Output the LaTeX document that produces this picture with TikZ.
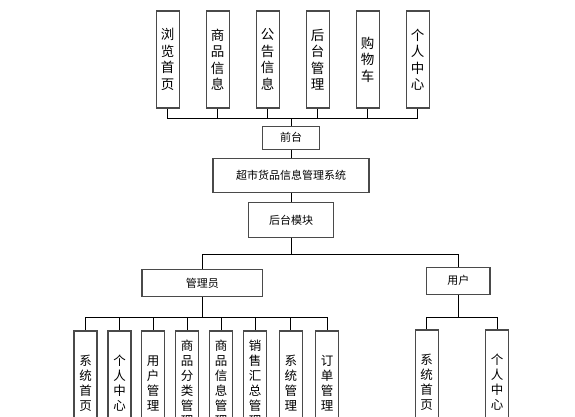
\documentclass[tikz,border=0pt]{standalone}
\usepackage{fontspec}
\usepackage{tikz}
\usetikzlibrary{positioning, calc}
\newfontfamily\cjk{Noto Sans CJK SC}
\definecolor{boxgray}{HTML}{4A4A4A}
\tikzset{
  module box/.style={rectangle, draw=boxgray, fill=white, line width=1.2pt, inner sep=0pt,
    font=\cjk\fontsize{11}{13}\selectfont},
  top item/.style={rectangle, draw=boxgray, fill=white, line width=1.2pt, inner sep=0pt,
    minimum width=23pt, minimum height=97pt, align=center,
    font=\cjk\fontsize{13.5}{16.5}\selectfont},
  sub item/.style={rectangle, draw=boxgray, fill=white, line width=1.2pt, inner sep=0pt,
    minimum width=23pt, minimum height=104pt, align=center,
    font=\cjk\fontsize{12.5}{15}\selectfont},
  link/.style={black, line width=0.9pt}
}

\begin{document}
\begin{tikzpicture}[x=1pt, y=-1pt]
  \useasboundingbox (0,0) rectangle (575,417);
  \clip (0,0) rectangle (575,417);

  % --- front-end pages ---
  \foreach \x/\txt/\idx in {167.7/{浏\\览\\首\\页}/1, 217.7/{商\\品\\信\\息}/2, 267.7/{公\\告\\信\\息}/3,
                            317.7/{后\\台\\管\\理}/4, 367.7/{购\\物\\车}/5, 417.7/{个\\人\\中\\心}/6} {
    \node[top item] (T-\idx) at (\x,59.5) {\txt};
  }

  % --- main column ---
  \node[module box, minimum width=57pt, minimum height=23pt] (front) at (291,137.7) {前台};
  \node[module box, minimum width=156pt, minimum height=34.5pt] (system) at (291,175.5) {超市货品信息管理系统};
  \node[module box, minimum width=85pt, minimum height=34.5pt] (back) at (291,220) {后台模块};

  % --- roles ---
  \node[module box, minimum width=120.7pt, minimum height=27pt] (admin) at (202.3,283.2) {管理员};
  \node[module box, minimum width=63.3pt, minimum height=27pt] (user) at (458.3,280.8) {用户};

  % --- admin functions ---
  \foreach \x/\txt/\idx in {85.5/{系\\统\\首\\页}/1, 119.5/{个\\人\\中\\心}/2, 153.2/{用\\户\\管\\理}/3,
                            187/{商\\品\\分\\类\\管\\理}/4, 221/{商\\品\\信\\息\\管\\理}/5,
                            255/{销\\售\\汇\\总\\管\\理}/6, 290.8/{系\\统\\管\\理}/7, 327/{订\\单\\管\\理}/8} {
    \node[sub item] (A-\idx) at (\x,383) {\txt};
  }

  % --- user functions ---
  \node[sub item] (U-1) at (426.7,382) {系\\统\\首\\页};
  \node[sub item] (U-2) at (497.2,382) {个\\人\\中\\心};

  % --- bus points ---
  \coordinate (topbus) at (291,118.5);
  \coordinate (split) at (291,254.7);
  \coordinate (adminbus) at (202.3,317.3);
  \coordinate (userbus) at (458.3,317.3);

  % --- connections ---
  \foreach \idx in {1,...,6} {
    \draw[link] (T-\idx.south) |- (topbus);
  }
  \draw[link] (topbus) -- (front.north);
  \draw[link] (front) -- (system);
  \draw[link] (system) -- (back);
  \draw[link] (back.south) -- (split);
  \draw[link] (split) -| (admin.north);
  \draw[link] (split) -| (user.north);
  \draw[link, line width=1.4pt] (admin.south) -- (adminbus);
  \foreach \idx in {1,...,8} {
    \draw[link] (adminbus) -| (A-\idx.north);
  }
  \draw[link] (user.south) -- (userbus);
  \draw[link] (userbus) -| (U-1.north);
  \draw[link] (userbus) -| (U-2.north);
\end{tikzpicture}
\end{document}
